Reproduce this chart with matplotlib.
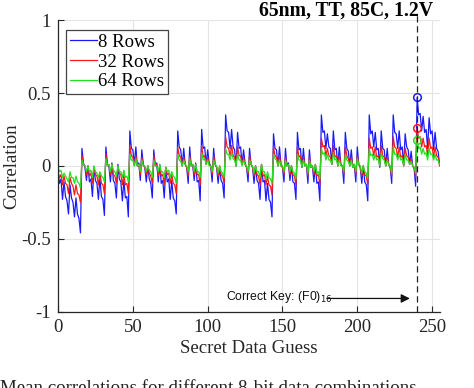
"""
Correlation vs. secret data guess for different array sizes (65nm, TT, 85C, 1.2V).
"""
import numpy as np
import matplotlib
matplotlib.use("Agg")
import matplotlib.pyplot as plt

# correlation per guess (0..255), 16 guesses per line
corr_8_rows = [
    -0.04, -0.12, -0.09, -0.23, -0.11, -0.21, -0.24, -0.33, -0.13, -0.22, -0.25, -0.35, -0.22, -0.33, -0.36, -0.46,
    0.12, 0.02, -0.01, -0.10, 0.00, -0.11, -0.09, -0.21, -0.01, -0.10, -0.12, -0.23, -0.08, -0.21, -0.23, -0.34,
    0.13, 0.01, 0.00, -0.11, 0.02, -0.10, -0.12, -0.22, 0.01, -0.09, -0.11, -0.24, -0.10, -0.22, -0.21, -0.35,
    0.24, 0.12, 0.11, 0.01, 0.13, 0.00, 0.02, -0.10, 0.11, 0.01, -0.01, -0.11, 0.00, -0.09, -0.12, -0.22,
    0.11, 0.00, 0.02, -0.11, 0.01, -0.12, -0.10, -0.22, -0.01, -0.11, -0.09, -0.23, -0.10, -0.22, -0.24, -0.33,
    0.24, 0.13, 0.11, 0.00, 0.12, 0.01, -0.01, -0.12, 0.13, 0.00, 0.01, -0.10, 0.02, -0.11, -0.10, -0.24,
    0.25, 0.12, 0.13, 0.01, 0.11, 0.02, 0.00, -0.11, 0.12, 0.01, -0.01, -0.12, -0.01, -0.10, -0.12, -0.22,
    0.35, 0.24, 0.23, 0.12, 0.25, 0.13, 0.11, 0.00, 0.23, 0.12, 0.13, 0.01, 0.11, 0.02, -0.01, -0.11,
    0.12, 0.01, -0.01, -0.12, 0.00, -0.10, -0.12, -0.23, 0.01, -0.11, -0.10, -0.24, -0.12, -0.23, -0.25, -0.35,
    0.22, 0.12, 0.11, 0.00, 0.13, 0.01, -0.01, -0.11, 0.12, 0.00, 0.02, -0.10, 0.00, -0.11, -0.12, -0.23,
    0.23, 0.11, 0.12, -0.01, 0.12, 0.00, 0.01, -0.12, 0.11, -0.01, 0.00, -0.11, 0.01, -0.12, -0.11, -0.24,
    0.35, 0.23, 0.24, 0.12, 0.22, 0.13, 0.12, 0.01, 0.24, 0.11, 0.12, 0.00, 0.13, 0.01, 0.00, -0.12,
    0.23, 0.12, 0.10, 0.00, 0.11, -0.01, 0.01, -0.11, 0.13, 0.01, -0.01, -0.12, 0.00, -0.11, -0.13, -0.24,
    0.35, 0.22, 0.24, 0.13, 0.23, 0.11, 0.12, -0.01, 0.24, 0.12, 0.11, 0.00, 0.12, 0.01, -0.01, -0.12,
    0.35, 0.23, 0.22, 0.12, 0.24, 0.11, 0.13, 0.00, 0.22, 0.13, 0.11, 0.01, 0.10, 0.00, -0.02, -0.14,
    0.47, 0.35, 0.36, 0.24, 0.34, 0.23, 0.25, 0.12, 0.33, 0.22, 0.24, 0.11, 0.23, 0.12, 0.10, 0.01,
]

corr_32_rows = [
    -0.04, -0.08, -0.06, -0.13, -0.07, -0.12, -0.13, -0.19, -0.08, -0.12, -0.14, -0.20, -0.13, -0.19, -0.20, -0.25,
    0.07, 0.01, 0.00, -0.06, 0.00, -0.07, -0.05, -0.12, -0.01, -0.06, -0.07, -0.13, -0.05, -0.12, -0.13, -0.19,
    0.08, 0.00, 0.01, -0.06, 0.01, -0.06, -0.07, -0.12, 0.00, -0.05, -0.06, -0.13, -0.06, -0.13, -0.12, -0.19,
    0.14, 0.07, 0.06, 0.00, 0.07, 0.00, 0.01, -0.06, 0.06, 0.00, -0.01, -0.06, 0.00, -0.05, -0.07, -0.12,
    0.07, 0.00, 0.01, -0.07, 0.00, -0.07, -0.06, -0.13, -0.01, -0.06, -0.05, -0.12, -0.06, -0.12, -0.13, -0.19,
    0.13, 0.07, 0.06, 0.00, 0.06, 0.01, -0.01, -0.07, 0.07, 0.00, 0.01, -0.06, 0.01, -0.06, -0.06, -0.13,
    0.14, 0.06, 0.07, 0.01, 0.06, 0.01, 0.00, -0.06, 0.07, 0.01, -0.01, -0.07, 0.00, -0.06, -0.07, -0.12,
    0.20, 0.13, 0.12, 0.07, 0.14, 0.07, 0.06, 0.00, 0.13, 0.07, 0.07, 0.01, 0.06, 0.01, -0.01, -0.06,
    0.07, 0.01, -0.01, -0.07, 0.00, -0.06, -0.07, -0.13, 0.01, -0.07, -0.06, -0.13, -0.07, -0.13, -0.14, -0.20,
    0.13, 0.07, 0.06, 0.00, 0.07, 0.00, -0.01, -0.06, 0.06, 0.00, 0.01, -0.06, 0.00, -0.06, -0.07, -0.13,
    0.13, 0.06, 0.07, -0.01, 0.06, 0.00, 0.01, -0.07, 0.06, -0.01, 0.00, -0.06, 0.01, -0.07, -0.06, -0.13,
    0.19, 0.13, 0.14, 0.07, 0.12, 0.07, 0.06, 0.01, 0.14, 0.06, 0.07, 0.00, 0.07, 0.01, 0.00, -0.06,
    0.13, 0.07, 0.05, 0.00, 0.06, -0.01, 0.01, -0.06, 0.07, 0.01, -0.01, -0.07, 0.00, -0.06, -0.07, -0.13,
    0.19, 0.12, 0.13, 0.07, 0.13, 0.06, 0.07, 0.00, 0.14, 0.07, 0.06, 0.00, 0.06, 0.01, -0.01, -0.07,
    0.20, 0.13, 0.12, 0.06, 0.13, 0.06, 0.07, 0.00, 0.12, 0.07, 0.06, 0.01, 0.05, 0.00, -0.01, -0.08,
    0.26, 0.19, 0.20, 0.13, 0.19, 0.13, 0.14, 0.07, 0.19, 0.12, 0.13, 0.06, 0.13, 0.07, 0.06, 0.00,
]

corr_64_rows = [
    -0.01, -0.04, -0.03, -0.08, -0.05, -0.07, -0.09, -0.11, -0.04, -0.08, -0.08, -0.12, -0.07, -0.11, -0.12, -0.15,
    0.04, 0.01, 0.00, -0.04, 0.00, -0.04, -0.03, -0.08, 0.00, -0.04, -0.05, -0.08, -0.04, -0.07, -0.08, -0.11,
    0.05, 0.00, 0.01, -0.04, 0.01, -0.03, -0.04, -0.07, 0.00, -0.04, -0.04, -0.08, -0.03, -0.08, -0.07, -0.11,
    0.08, 0.04, 0.04, 0.00, 0.05, 0.00, 0.01, -0.04, 0.04, 0.00, 0.00, -0.04, 0.00, -0.03, -0.04, -0.08,
    0.04, 0.00, 0.00, -0.04, 0.01, -0.04, -0.04, -0.08, -0.01, -0.04, -0.03, -0.08, -0.04, -0.07, -0.08, -0.12,
    0.08, 0.04, 0.03, 0.00, 0.04, 0.01, 0.00, -0.04, 0.05, 0.00, 0.01, -0.04, 0.01, -0.04, -0.04, -0.08,
    0.09, 0.04, 0.05, 0.01, 0.04, 0.00, 0.00, -0.04, 0.04, 0.01, 0.00, -0.05, 0.00, -0.04, -0.05, -0.08,
    0.12, 0.08, 0.08, 0.04, 0.09, 0.05, 0.04, 0.00, 0.08, 0.04, 0.04, 0.00, 0.04, 0.01, 0.00, -0.04,
    0.04, 0.01, 0.00, -0.05, 0.00, -0.04, -0.04, -0.08, 0.01, -0.04, -0.04, -0.09, -0.04, -0.08, -0.09, -0.12,
    0.08, 0.05, 0.04, 0.00, 0.04, 0.00, 0.00, -0.04, 0.04, 0.00, 0.01, -0.04, 0.00, -0.04, -0.05, -0.09,
    0.08, 0.04, 0.04, -0.01, 0.04, 0.00, 0.01, -0.05, 0.04, -0.01, 0.00, -0.04, 0.01, -0.05, -0.04, -0.09,
    0.12, 0.08, 0.09, 0.04, 0.08, 0.04, 0.04, 0.01, 0.09, 0.04, 0.05, 0.00, 0.04, 0.00, 0.00, -0.04,
    0.08, 0.04, 0.03, 0.00, 0.04, -0.01, 0.01, -0.04, 0.05, 0.01, 0.00, -0.05, 0.00, -0.04, -0.05, -0.09,
    0.12, 0.07, 0.08, 0.04, 0.08, 0.04, 0.05, 0.00, 0.09, 0.05, 0.04, 0.00, 0.04, 0.01, 0.00, -0.05,
    0.13, 0.08, 0.08, 0.04, 0.08, 0.04, 0.05, 0.00, 0.08, 0.04, 0.04, 0.01, 0.03, 0.00, -0.01, -0.05,
    0.18, 0.12, 0.13, 0.08, 0.12, 0.08, 0.09, 0.04, 0.12, 0.08, 0.08, 0.04, 0.08, 0.04, 0.04, 0.01,
]

series_labels = ["8 Rows", "32 Rows", "64 Rows"]
series_colors = ["#1a1aff", "#ff1a1a", "#22e022"]
correct_key = 240  # (F0)_16

x_ticks = [0, 50, 100, 150, 200, 250]
y_ticks = [-1, -0.5, 0, 0.5, 1]
y_tick_labels = ["-1", "-0.5", "0", "0.5", "1"]

serif = ["Liberation Serif", "DejaVu Serif"]
axis_grey = "#262626"
fs = 13.5

fig = plt.figure(figsize=(4.74, 3.88), dpi=100)
ax = fig.add_axes([0.1224, 0.197, 0.805, 0.751])

guesses = np.arange(len(corr_8_rows))
all_series = [corr_8_rows, corr_32_rows, corr_64_rows]
for vals, lab, col in zip(all_series, series_labels, series_colors):
    ax.plot(guesses, vals, color=col, lw=0.9, label=lab)

# open circles at the correct key
for vals, col in zip(all_series, series_colors):
    ax.plot(correct_key, vals[correct_key], "o", mfc="none", mec=col, ms=5.5, mew=1.1)

ax.axvline(correct_key, ymin=0, ymax=1.025, color="#222222", lw=0.9,
           ls=(0, (5, 3)), clip_on=False, zorder=5)

ax.set_xlim(0, 255)
ax.set_ylim(-1, 1)
ax.set_xticks(x_ticks)
ax.set_yticks(y_ticks)
ax.set_yticklabels(y_tick_labels)
ax.grid(True, color="#e4e4e4", lw=0.8)
ax.set_axisbelow(True)
for side in ["top", "right"]:
    ax.spines[side].set_visible(False)
for side in ["left", "bottom"]:
    ax.spines[side].set_color(axis_grey)
    ax.spines[side].set_linewidth(0.9)
ax.tick_params(direction="in", length=4, width=0.8, colors=axis_grey, labelsize=fs, pad=5)
for lbl in ax.get_xticklabels() + ax.get_yticklabels():
    lbl.set_family(serif)

ax.set_xlabel("Secret Data Guess", family=serif, fontsize=fs, color=axis_grey, labelpad=3)
ax.set_ylabel("Correlation", family=serif, fontsize=fs, color=axis_grey, labelpad=1)

leg = ax.legend(loc="upper left", bbox_to_anchor=(0.021, 0.966), borderaxespad=0,
                prop={"family": serif, "size": fs}, fancybox=False, framealpha=1,
                edgecolor="#444444", handlelength=1.45, handletextpad=0.05,
                labelspacing=0.14, borderpad=0.2)
leg.get_frame().set_linewidth(0.9)

ax.text(112, -0.9, "Correct Key: (F0)$_{16}$", family=["Liberation Sans", "DejaVu Sans"],
        fontsize=8.8, ha="left", va="center", color="#111111")
ax.annotate("", xy=(237, -0.91), xytext=(178, -0.91),
            arrowprops=dict(arrowstyle="-|>", color="#111111", lw=0.9, mutation_scale=13))

fig.text(433 / 474, 0.961, "65nm, TT, 85C, 1.2V", family=serif, fontsize=14.2,
         fontweight="bold", ha="right", va="baseline")

# caption of the source figure, cut off by the bottom edge as in the original
fig.text(0.0, -0.013, "Mean correlations for different 8-bit data combinations",
         family=serif, fontsize=13.6, ha="left", va="baseline", color="#222222")

fig.savefig("out.png", dpi=100)
